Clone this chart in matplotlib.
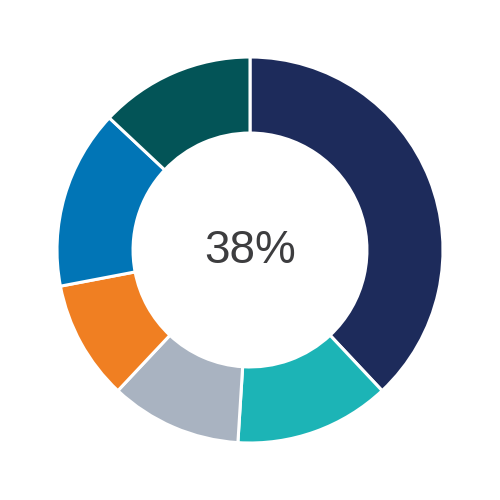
import matplotlib
matplotlib.use('Agg')
import matplotlib.pyplot as plt

labels = ['Navy', 'Teal', 'Gray', 'Orange', 'Blue', 'Dark green']
shares = [38, 13, 11, 10, 15, 13]
colors = ['#1d2b5b', '#1cb4b6', '#a9b3c1', '#f07f22', '#0175b6', '#035457']
center_text = '38%'

fig = plt.figure(figsize=(5, 5), dpi=100)
ax = fig.add_axes([0, 0, 1, 1])
ax.pie(shares, colors=colors, startangle=90, counterclock=False,
       radius=1, wedgeprops=dict(width=0.394, edgecolor='white', linewidth=2.2))
ax.text(0, -0.005, center_text, ha='center', va='center', fontsize=33,
        color='#3d3d3f', family='Liberation Sans')
lim = 250 / 193
ax.set_xlim(-lim, lim)
ax.set_ylim(-lim, lim)
ax.set_aspect('equal')
ax.axis('off')
fig.savefig('out.png', dpi=100, facecolor='white')
